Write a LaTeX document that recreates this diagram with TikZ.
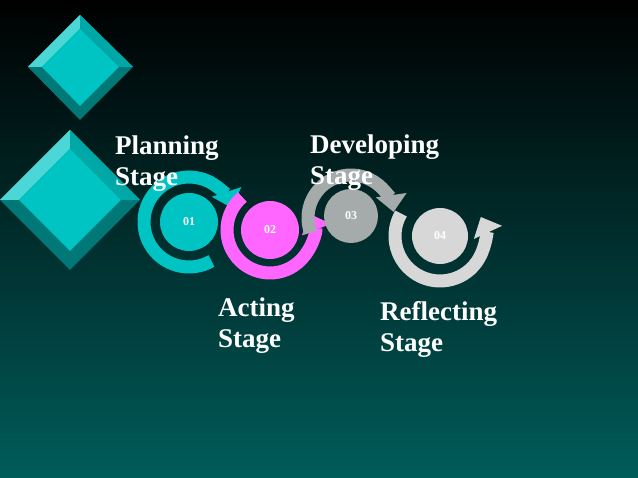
\documentclass[tikz,border=0pt]{standalone}
\usepackage{fontspec}
\setmainfont{Liberation Serif}
\usetikzlibrary{arrows.meta}
\definecolor{tealA}{RGB}{0,196,196}
\definecolor{tealD}{RGB}{0,120,120}
\definecolor{pinkA}{RGB}{255,102,255}
\definecolor{grayA}{RGB}{165,170,170}
\definecolor{grayB}{RGB}{215,215,215}
\definecolor{bgB}{RGB}{0,92,90}
\tikzset{
  ring/.style={line width=13pt, -{Triangle[width=30pt,length=17pt]}},
  num/.style={text=white, font=\bfseries\fontsize{12}{12}\selectfont},
  stage/.style={text=white, align=left, anchor=north west, inner sep=0pt,
    font=\bfseries\fontsize{27}{31}\selectfont}
}
\begin{document}
\begin{tikzpicture}[x=1pt, y=1pt]
        % Background
        \shade[top color=black, bottom color=bgB] (0,0) rectangle (638,478);
        \useasboundingbox (0,0) rectangle (638,478);

        % Diamonds
        \fill[tealD] (80,463) -- (133,411) -- (80,358) -- (28,411) -- cycle;
        \fill[tealA!70!white] (80,463) -- (80,449) -- (42,411) -- (28,411) -- cycle;
        \fill[tealA!80!black] (80,463) -- (133,411) -- (119,411) -- (80,449) -- cycle;
        \fill[tealA!85!black] (80,463) -- (133,411) -- (119,411) -- (80,449) -- cycle;
        \fill[tealA] (80,449) -- (119,411) -- (80,372) -- (42,411) -- cycle;
        \fill[tealD] (70,348) -- (140,278) -- (70,208) -- (0,278) -- cycle;
        \fill[tealA!70!white] (70,348) -- (70,329) -- (19,278) -- (0,278) -- cycle;
        \fill[tealA!85!black] (70,348) -- (140,278) -- (121,278) -- (70,329) -- cycle;
        \fill[tealA] (70,329) -- (121,278) -- (70,227) -- (19,278) -- cycle;

        % Rings
        \draw[ring, tealA] (189,256) ++(300:45) arc[start angle=300, end angle=18, radius=45];
        \draw[ring, pinkA] (270,248) ++(130:43) arc[start angle=130, end angle=382, radius=43];
        \draw[ring, grayA] (351,260) ++(200:43) arc[start angle=200, end angle=8, radius=43];
        \draw[ring, grayB] (440,242) ++(150:45) arc[start angle=150, end angle=385, radius=45];

        % Stage circles
        \node[num, circle, fill=tealA, minimum size=58pt] (s1) at (189,256) {01};
        \node[num, circle, fill=pinkA, minimum size=58pt] (s2) at (270,248) {02};
        \node[num, circle, fill=grayA, minimum size=54pt] (s3) at (351,262) {03};
        \node[num, circle, fill=grayB, minimum size=56pt] (s4) at (440,242) {04};

        % Labels
        \node[stage] (t1) at (115,342) {Planning\\Stage};
        \node[stage] (t3) at (310,343) {Developing\\Stage};
        \node[stage] (t2) at (218,180) {Acting\\Stage};
        \node[stage] (t4) at (380,177) {Reflecting\\Stage};
\end{tikzpicture}
\end{document}
